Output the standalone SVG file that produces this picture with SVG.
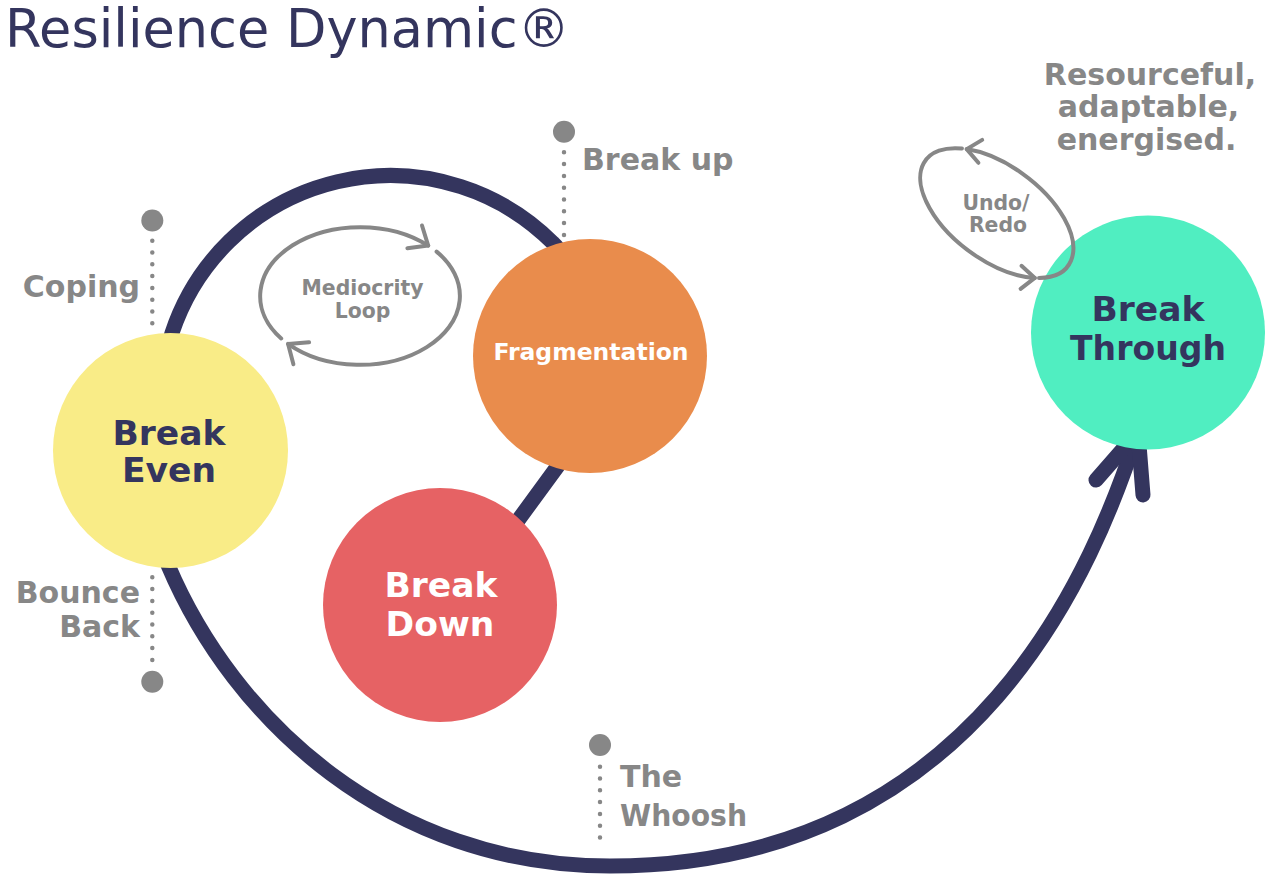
<svg xmlns="http://www.w3.org/2000/svg" width="1280" height="885" viewBox="0 0 1280 885">
<style>
.navy{fill:none;stroke:#34355E;stroke-width:15;stroke-linecap:round;stroke-linejoin:round}
.loop{fill:none;stroke:#878787;stroke-width:4;stroke-linecap:round;stroke-linejoin:round}
.dots{fill:none;stroke:#878787;stroke-width:4.5;stroke-linecap:round;stroke-dasharray:0 11.8}
.bigdot{fill:#878787}
.lbl{font-family:"DejaVu Sans","Liberation Sans",sans-serif;font-weight:bold;fill:#878787;font-size:30px}
.node{font-family:"DejaVu Sans","Liberation Sans",sans-serif;font-weight:bold;font-size:34.5px;text-anchor:middle}
.small{font-family:"DejaVu Sans","Liberation Sans",sans-serif;font-weight:bold;fill:#878787;font-size:20.4px;text-anchor:middle}
</style>
<rect width="1280" height="885" fill="#ffffff"/>
<text x="5" y="47" font-family="DejaVu Sans, Liberation Sans, sans-serif" font-size="52.5" fill="#34355E">Resilience Dynamic®</text>

<g id="connectors">
<path class="navy" d="M 500 545 L 560 463 C 595 414, 591 278, 553 243 A 230 230 0 0 0 172 333 C 150.5 399.6, 140.7 500.6, 168 565 C 234 721, 390 866, 610 866 C 980 866, 1096 560, 1138 432"/>
<path class="navy" d="M 1096 480 L 1138 432 L 1143 495"/>
</g>

<g id="break-even">
<circle cx="170.5" cy="450.5" r="117.5" fill="#F9EC87"/>
<text class="node" x="169" y="445" fill="#34355E">Break</text>
<text class="node" x="169" y="482" fill="#34355E">Even</text>
</g>
<g id="fragmentation">
<circle cx="590" cy="356" r="117" fill="#E98C4C"/>
<text x="591" y="360" font-family="DejaVu Sans, Liberation Sans, sans-serif" font-weight="bold" font-size="23.5" fill="#ffffff" text-anchor="middle">Fragmentation</text>
</g>
<g id="break-down">
<circle cx="440" cy="605" r="117" fill="#E66264"/>
<text class="node" x="441" y="597" fill="#ffffff">Break</text>
<text class="node" x="440" y="636" fill="#ffffff">Down</text>
</g>
<g id="break-through">
<circle cx="1148" cy="332.5" r="117" fill="#50EEC1"/>
<text class="node" x="1148" y="321" fill="#34355E">Break</text>
<text class="node" x="1148" y="360" fill="#34355E" textLength="156" lengthAdjust="spacingAndGlyphs">Through</text>
</g>

<g id="mediocrity-loop">
<path class="loop" d="M 281.2 338.5 A 100 69 0 0 1 428.2 245.6"/>
<path class="loop" d="M 407.4 248.3 L 428.2 245.6 L 422 225.5"/>
<path class="loop" d="M 436.6 251.6 A 100 69 0 0 1 288.1 343.9"/>
<path class="loop" d="M 309.1 342.3 L 288.1 343.9 L 293.4 364.2"/>
<text class="small" x="362.5" y="295">Mediocrity</text>
<text class="small" x="362.5" y="318">Loop</text>
</g>

<g id="undo-redo-loop">
<path class="loop" d="M 961.9 148.5 A 88.6 47 36.6 1 0 1034.8 277.9"/>
<path class="loop" d="M 1021.5 265.8 L 1034.8 277.9 L 1020.6 288.9"/>
<path class="loop" d="M 1039 278 A 88.6 47 36.6 0 0 966.7 149.1"/>
<path class="loop" d="M 982.2 139.9 L 966.7 149.1 L 978.4 162.8"/>
<text class="small" x="996" y="210">Undo/</text>
<text class="small" x="998" y="232">Redo</text>
</g>

<g id="coping">
<circle class="bigdot" cx="152.3" cy="220.5" r="11"/>
<line class="dots" x1="152.3" y1="240.7" x2="152.3" y2="324"/>
<text class="lbl" x="140" y="297" text-anchor="end">Coping</text>
</g>
<g id="bounce-back">
<line class="dots" x1="152.3" y1="577.3" x2="152.3" y2="661"/>
<circle class="bigdot" cx="152.3" cy="681.7" r="11"/>
<text class="lbl" x="140" y="603" text-anchor="end">Bounce</text>
<text class="lbl" x="140" y="637" text-anchor="end">Back</text>
</g>
<g id="break-up">
<circle class="bigdot" cx="564" cy="131.7" r="11"/>
<line class="dots" x1="564" y1="152.3" x2="564" y2="236"/>
<text class="lbl" x="582" y="170">Break up</text>
</g>
<g id="the-whoosh">
<circle class="bigdot" cx="600" cy="745" r="11"/>
<line class="dots" x1="600" y1="766.7" x2="600" y2="849"/>
<text class="lbl" x="620" y="787">The</text>
<text class="lbl" x="620" y="826" textLength="127" lengthAdjust="spacingAndGlyphs">Whoosh</text>
</g>
<g id="outcome">
<text class="lbl" x="1150" y="85" text-anchor="middle">Resourceful,</text>
<text class="lbl" x="1148.5" y="117" text-anchor="middle">adaptable,</text>
<text class="lbl" x="1146.5" y="150" text-anchor="middle">energised.</text>
</g>
</svg>
